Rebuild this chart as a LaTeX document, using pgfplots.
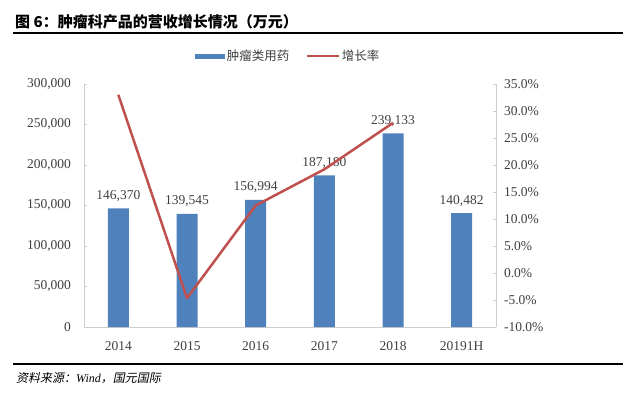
\documentclass[border=0pt]{standalone}
\usepackage{fontspec}
\usepackage{pgfplots}
\pgfplotsset{compat=1.18}
\setmainfont{Liberation Serif}
\newfontfamily\cjk{Noto Sans CJK SC}
\newfontfamily\cjkit{Noto Sans CJK SC}[FakeSlant=0.2]
\definecolor{barblue}{RGB}{79,129,189}
\definecolor{linered}{RGB}{192,80,77}
\definecolor{txt}{RGB}{64,64,64}
\definecolor{axgray}{RGB}{205,205,205}
\begin{document}
\begin{tikzpicture}
\path[use as bounding box] (0pt,0pt) rectangle (640pt,392pt);
\node[anchor=west, inner sep=0, font=\cjk\bfseries\fontsize{15}{18}\selectfont] at (15pt,370pt) {图 6：肿瘤科产品的营收增长情况（万元）};
\draw[line width=2pt] (13pt,359pt) -- (623pt,359pt);
\draw[line width=2pt] (13pt,28pt) -- (623pt,28pt);
\node[anchor=west, inner sep=0, font=\fontsize{12}{14}\selectfont] at (16pt,14pt) {{\cjkit 资料来源：}\textit{Wind}{\cjkit ，国元国际}};

\begin{axis}[at={(84pt,65pt)}, anchor=south west, width=412pt, height=243pt, scale only axis,
  xmin=-0.5, xmax=5.5, ymin=0, ymax=300000,
  xtick={0,...,5}, xticklabels={2014,2015,2016,2017,2018,20191H},
  ytick={0,50000,...,300000}, scaled y ticks=false,
  axis y line*=left, axis x line*=bottom,
  axis line style={draw=axgray, line width=0.8pt},
  xtick style={draw=none}, ytick style={draw=axgray, line width=0.8pt},
  major tick length=3pt, tick align=inside,
  /pgf/number format/assume math mode=true,
  /pgf/number format/.cd, fixed, 1000 sep={,}, /pgfplots/.cd,
  ticklabel style={font=\fontsize{13.5}{16}\selectfont, text=txt},
  yticklabel style={xshift=-9.5pt},
  xticklabel style={yshift=-8pt},
  ybar, bar width=21pt,
  nodes near coords,
  every node near coord/.append style={font=\fontsize{13.5}{16}\selectfont, text=txt, yshift=3.5pt},
]
\addplot[fill=barblue, draw=none] coordinates {(0,146370) (1,139545) (2,156994) (3,187180) (4,239133) (5,140482)};
\end{axis}

\begin{axis}[at={(84pt,65pt)}, anchor=south west, width=412pt, height=243pt, scale only axis,
  xmin=-0.5, xmax=5.5, ymin=-10, ymax=35,
  ytick={-10,-5,...,35},
  axis y line*=right, axis x line=none,
  axis line style={draw=axgray, line width=0.8pt},
  ytick style={draw=axgray, line width=0.8pt},
  major tick length=3pt, tick align=inside,
  /pgf/number format/assume math mode=true,
  yticklabel={\pgfmathprintnumber[fixed,fixed zerofill,precision=1]{\tick}\%},
  ticklabel style={font=\fontsize{13.5}{16}\selectfont, text=txt},
  yticklabel style={xshift=4.5pt},
  legend columns=2,
  legend style={at={(0.496,1.115)}, anchor=center, draw=none, fill=none,
    font=\cjk\fontsize{12.5}{14}\selectfont, text=txt,
    /tikz/every even column/.append style={column sep=14pt}},
]
\addlegendimage{legend image code/.code={\fill[barblue] (0pt,-2pt) rectangle (29pt,2pt);}}
\addlegendentry{肿瘤类用药}
\addplot[linered, line width=2.5pt, line join=round, mark=none,
  legend image code/.code={\draw[linered, line width=2.5pt] (0pt,0pt) -- (32pt,0pt);}]
  coordinates {(0,33.0) (1,-4.66) (2,12.5) (3,19.2) (4,27.8)};
\addlegendentry{增长率}
\end{axis}
\end{tikzpicture}
\end{document}
